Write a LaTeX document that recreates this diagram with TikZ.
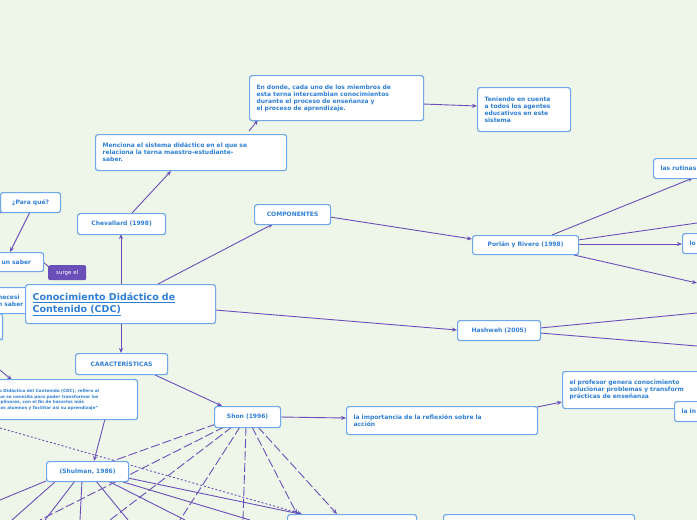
\documentclass[tikz,border=0pt]{standalone}
\usepackage{fontspec}
\setmainfont{DejaVu Sans}
\usetikzlibrary{arrows.meta}
\definecolor{bg}{HTML}{EEF6EA}
\definecolor{bd}{HTML}{6FA8E8}
\definecolor{tx}{HTML}{2F7FD6}
\definecolor{ln}{HTML}{6A4FB8}
\tikzset{
 box/.style={draw=bd,line width=1.2pt,fill=white,rounded corners=2.5pt,inner sep=0pt,font=\fontsize{6}{7}\selectfont\bfseries,text=tx,align=left},
 conn/.style={ln,line width=0.9pt},
 arr/.style={conn,-{Stealth[length=5pt,width=4pt]}},
 dsh/.style={conn,dash pattern=on 9pt off 3pt},
}
\newcommand{\bx}[6]{\node[box,minimum width=#4-#2,minimum height=#5-#3,anchor=north west,text width=#4-#2-14] (#1) at (#2,#3) {#6};}
\newcommand{\bxc}[6]{\node[box,align=center,minimum width=#4-#2,minimum height=#5-#3,anchor=north west] (#1) at (#2,#3) {#6};}
\begin{document}
\begin{tikzpicture}[x=1pt,y=-1pt]
\fill[bg] (0,0) rectangle (697,520);
\useasboundingbox (0,0) rectangle (697,520);
\draw[conn] (0,213) -- (20,200);
\draw[arr] (30,212) -- (10,252);
\draw[conn] (43,262) -- (55,272);
\draw[arr] (0,370) -- (12,380);
\draw[conn,dash pattern=on 2pt off 2pt,-{Stealth[length=5pt,width=4pt]}] (0,428) -- (302,514);
\draw[arr] (121,284) -- (121,234);
\draw[arr] (132,213) -- (171,171);
\draw[arr] (249,131) -- (258,120);
\draw[arr] (423,104) -- (477,106);
\draw[arr] (158,284) -- (273,224);
\draw[arr] (330,217) -- (472,239);
\draw[arr] (552,235) -- (693,178);
\draw[conn] (578,240) -- (697,223);
\draw[arr] (578,244) -- (682,244);
\draw[arr] (574,255) -- (697,283);
\draw[arr] (215,310) -- (457,330);
\draw[conn] (540,328) -- (697,313);
\draw[conn] (540,333) -- (697,346);
\draw[arr] (121,323) -- (121,353);
\draw[arr] (153,374) -- (222,406);
\draw[arr] (105,419) -- (94,461);
\draw[arr] (280,417) -- (346,418);
\draw[arr] (537,407) -- (562,402);
\draw[conn] (46,481) -- (0,500);
\draw[conn] (56,481) -- (12,520);
\draw[conn] (75,481) -- (45,520);
\draw[conn] (82,481) -- (80,520);
\draw[conn] (96,481) -- (128,520);
\draw[conn] (108,481) -- (185,520);
\draw[conn] (120,481) -- (250,520);
\draw[arr] (128,478) -- (300,514);
\draw[dsh] (216,424) -- (110,462);
\draw[dsh] (224,427) -- (40,520);
\draw[dsh] (232,427) -- (110,520);
\draw[dsh] (240,427) -- (180,520);
\draw[dsh] (246,427) -- (243,520);
\draw[dsh,-{Stealth[length=5pt,width=4pt]}] (252,427) -- (297,514);
\draw[dsh,-{Stealth[length=5pt,width=4pt]}] (258,427) -- (337,514);
\bxc{para}{0}{192}{60}{212}{¿Para qué?}
\bx{unsab}{-6}{252}{43}{271}{un saber}
\node[box,minimum width=51,minimum height=26,anchor=north west,text width=44] (neces) at (-6,287) {necesi\\n saber};
\node[box,minimum width=4,minimum height=26,anchor=north west] at (-2,313) {};
\node[fill=ln,rounded corners=2pt,minimum width=38,minimum height=15,anchor=north west,inner sep=0pt,text=white,font=\fontsize{5.5}{6}\selectfont] (surge) at (48,265) {surge el};
\node[box,minimum width=190,minimum height=39,anchor=north west,text width=176,font=\fontsize{9.5}{12}\selectfont\bfseries] (cdc) at (25,284) {\underline{Conocimiento Didáctico de}\\\underline{Contenido (CDC)}};
\bxc{chev}{77}{213}{165}{234}{Chevallard (1998)}
\bx{menc}{95}{134}{286}{170}{Menciona el sistema didáctico en el que se\\ relaciona la terna maestro-estudiante-\\ saber.}
\bx{endon}{249}{75}{423}{120}{En donde, cada uno de los miembros de\\ esta terna intercambian conocimientos\\ durante el proceso de enseñanza y\\ el proceso de aprendizaje.}
\bx{ten}{477}{87}{570}{131}{Teniendo en cuenta\\ a todos los agentes\\ educativos en este\\ sistema}
\bxc{comp}{254}{204}{330}{224}{COMPONENTES}
\bxc{porlan}{472}{235}{578}{254}{Porlán y Rivero (1998)}
\bx{rut}{653}{158}{710}{178}{las rutinas}
\bx{lo}{682}{233}{710}{253}{lo}
\bxc{hash}{457}{320}{540}{340}{Hashweh (2005)}
\bxc{car}{75}{353}{167}{374}{CARACTERÍSTICAS}
\node[box,minimum width=142,minimum height=40,anchor=north west,text width=135,font=\fontsize{4.2}{5.5}\selectfont\bfseries] (quote) at (-5,379) {o Didáctico del Contenido (CDC), refiere al\\ue se necesita para poder transformar los\\iplinares, con el fin de hacerlos más\\los alumnos y facilitar así su aprendizaje"};
\bxc{shon}{214}{406}{280}{427}{Shon (1996)}
\bx{imp}{346}{406}{537}{434}{la importancia de la reflexión sobre la\\ acción}
\bx{prof}{562}{371}{710}{408}{el profesor genera conocimiento\\ solucionar problemas y transform\\ prácticas de enseñanza}
\bx{lain}{674}{401}{710}{421}{la In}
\bxc{shul}{46}{461}{128}{481}{(Shulman, 1986)}
\bx{b1}{287}{514}{416}{530}{}
\bx{b2}{443}{514}{634}{530}{}
\end{tikzpicture}
\end{document}
